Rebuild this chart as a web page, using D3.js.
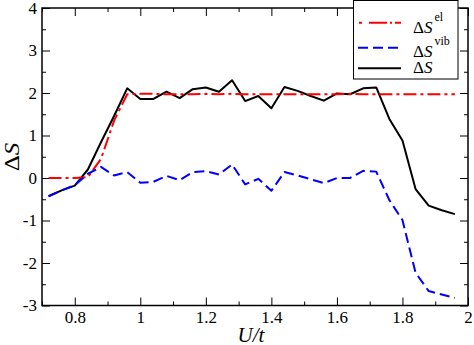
<!DOCTYPE html>
<html>
<head>
<meta charset="utf-8">
<script src="https://cdn.jsdelivr.net/npm/d3@7"></script>
<style>
  html, body { margin: 0; padding: 0; background: #fff; }
  svg { display: block; }
</style>
</head>
<body>
<svg id="chart" width="474" height="345"></svg>
<script>
// Interaction strength U/t
const uValues = [0.72, 0.76, 0.80, 0.84, 0.88, 0.92, 0.96, 1.00, 1.04, 1.08, 1.12, 1.16, 1.20, 1.24,
                 1.28, 1.32, 1.36, 1.40, 1.44, 1.48, 1.52, 1.56, 1.60, 1.64, 1.68, 1.72, 1.76, 1.80,
                 1.84, 1.88, 1.92, 1.96];
// Electronic entropy change
const dSel = [0.00, 0.00, 0.00, 0.02, 0.45, 1.35, 1.97, 1.98, 1.98, 1.97, 1.97, 1.97, 1.98, 1.97,
              1.98, 1.97, 1.97, 1.97, 1.97, 1.97, 1.97, 1.97, 1.97, 1.98, 1.97, 1.97, 1.97, 1.97,
              1.97, 1.97, 1.97, 1.97];
// Vibrational entropy change
const dSvib = [-0.43, -0.29, -0.17, 0.10, 0.26, 0.06, 0.14, -0.11, -0.09, 0.05, -0.05, 0.14, 0.16, 0.08,
               0.32, -0.15, -0.02, -0.30, 0.14, 0.06, -0.03, -0.12, 0.00, 0.00, 0.17, 0.15, -0.52, -0.99,
               -2.23, -2.66, -2.74, -2.82];
// Total entropy change
const dStot = [-0.43, -0.29, -0.18, 0.20, 0.84, 1.46, 2.11, 1.86, 1.86, 2.03, 1.88, 2.09, 2.13, 2.03,
               2.30, 1.81, 1.93, 1.64, 2.14, 2.05, 1.93, 1.82, 1.99, 1.97, 2.11, 2.13, 1.39, 0.88,
               -0.26, -0.65, -0.76, -0.85];

const xMajor = [0.8, 1.0, 1.2, 1.4, 1.6, 1.8, 2.0];
const xMinor = [0.7, 0.9, 1.1, 1.3, 1.5, 1.7, 1.9];
const yMajor = [-3, -2, -1, 0, 1, 2, 3, 4];
const yMinor = [-2.5, -1.5, -0.5, 0.5, 1.5, 2.5, 3.5];

const svg = d3.select("#chart");
const plotLeft = 42, plotRight = 468, plotTop = 8, plotBottom = 305.5;
const serif = "'Liberation Serif'";

const x = d3.scaleLinear().domain([0.7, 2.0]).range([plotLeft, plotRight]);
const y = d3.scaleLinear().domain([-3, 4]).range([plotBottom, plotTop]);

const fmtX = d => (d === 1 || d === 2) ? d3.format("d")(d) : d3.format(".1f")(d);
const fmtY = d => d < 0 ? "-" + Math.abs(d) : String(d);

// Axes with inward ticks on all four sides
function axis(gen, ticks, size, fmt) {
  return gen.tickValues(ticks).tickSize(size).tickFormat(fmt || "").tickPadding(5);
}
const axG = svg.append("g");
axG.append("g").attr("transform", `translate(0,${plotBottom})`).call(axis(d3.axisBottom(x), xMajor, -8, fmtX))
  .call(g => g.selectAll("text").attr("dy", "0").attr("y", 17.5).style("font-size", "17px"));
axG.append("g").attr("transform", `translate(0,${plotBottom})`).call(axis(d3.axisBottom(x), xMinor, -4));
axG.append("g").attr("transform", `translate(0,${plotTop})`).call(axis(d3.axisTop(x), xMajor, -8));
axG.append("g").attr("transform", `translate(0,${plotTop})`).call(axis(d3.axisTop(x), xMinor, -4));
axG.append("g").attr("transform", `translate(${plotLeft},0)`).call(axis(d3.axisLeft(y), yMajor, -8, fmtY))
  .call(g => g.selectAll("text").attr("x", -5).style("font-size", "17px"));
axG.append("g").attr("transform", `translate(${plotLeft},0)`).call(axis(d3.axisLeft(y), yMinor, -4));
axG.append("g").attr("transform", `translate(${plotRight},0)`).call(axis(d3.axisRight(y), yMajor, -8));
axG.append("g").attr("transform", `translate(${plotRight},0)`).call(axis(d3.axisRight(y), yMinor, -4));
axG.selectAll(".domain").remove();
axG.selectAll(".tick line").attr("stroke", "#000").attr("stroke-width", 1);
axG.selectAll(".tick text").style("font-family", serif).attr("fill", "#000");

svg.append("rect").attr("x", plotLeft).attr("y", plotTop)
  .attr("width", plotRight - plotLeft).attr("height", plotBottom - plotTop)
  .attr("fill", "none").attr("stroke", "#000").attr("stroke-width", 1.5);

// Series
const series = [
  { values: dSel, color: "#ff0000", dash: "13,4,3,4", sup: "el" },
  { values: dSvib, color: "#0000ff", dash: "10,5", sup: "vib" },
  { values: dStot, color: "#000000", dash: null, sup: null }
];
const line = d3.line().x(d => x(d[0])).y(d => y(d[1]));
const plot = svg.append("g");
// draw black first so the dashed curves sit on top where they coincide
[series[2], series[0], series[1]].forEach(s => {
  plot.append("path")
    .datum(uValues.map((u, i) => [u, s.values[i]]))
    .attr("d", line)
    .attr("fill", "none")
    .attr("stroke", s.color)
    .attr("stroke-width", 2)
    .attr("stroke-linejoin", "round")
    .attr("stroke-dasharray", s.dash);
});

// Legend
const lg = svg.append("g");
lg.append("rect").attr("x", 353.5).attr("y", 0.5).attr("width", 104.5).attr("height", 78.5)
  .attr("fill", "#fff").attr("stroke", "#000").attr("stroke-width", 1);
const rowY = [22.7, 47.7, 68.3];
const textBase = [33, 57, 73];
series.forEach((s, i) => {
  lg.append("line").attr("x1", 358).attr("x2", 401).attr("y1", rowY[i]).attr("y2", rowY[i])
    .attr("stroke", s.color).attr("stroke-width", 2)
    .attr("stroke-dasharray", s.sup === "el" ? "0,1,3,7,18,3,2,3,18" : s.dash);
  const t = lg.append("text").attr("x", 413).attr("y", textBase[i])
    .style("font-size", "17px").style("font-family", serif).attr("fill", "#000");
  t.append("tspan").text("Δ");
  t.append("tspan").style("font-style", "italic").text("S");
  if (s.sup) {
    t.append("tspan").attr("dx", 2).attr("dy", -12).style("font-size", "12px").text(s.sup);
  }
});

// Axis titles
svg.append("text")
  .attr("transform", `translate(19,157) scale(0.8,1) rotate(-90)`)
  .attr("text-anchor", "middle")
  .style("font-size", "25px").style("font-family", serif)
  .call(t => { t.append("tspan").text("Δ"); t.append("tspan").style("font-style", "italic").text("S"); });
svg.append("text")
  .attr("x", 251).attr("y", 342)
  .attr("text-anchor", "middle")
  .style("font-size", "21px").style("font-style", "italic").style("font-family", serif)
  .text("U/t");
</script>
</body>
</html>
